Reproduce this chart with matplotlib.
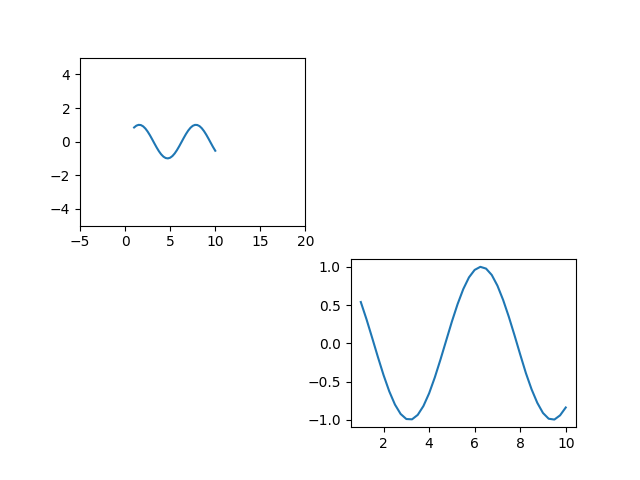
import matplotlib
matplotlib.use("Agg")
import matplotlib.pyplot as plt

x_vals = [1.0, 1.25, 1.5, 1.75, 2.0, 2.25, 2.5, 2.75, 3.0, 3.25, 3.5, 3.75, 4.0,
          4.25, 4.5, 4.75, 5.0, 5.25, 5.5, 5.75, 6.0, 6.25, 6.5, 6.75, 7.0, 7.25,
          7.5, 7.75, 8.0, 8.25, 8.5, 8.75, 9.0, 9.25, 9.5, 9.75, 10.0]
top_series = [0.841, 0.949, 0.997, 0.984, 0.909, 0.778, 0.598, 0.382, 0.141, -0.108,
              -0.351, -0.572, -0.757, -0.895, -0.978, -0.999, -0.959, -0.859, -0.706,
              -0.508, -0.279, -0.033, 0.215, 0.451, 0.657, 0.823, 0.938, 0.995, 0.989,
              0.923, 0.798, 0.624, 0.412, 0.174, -0.075, -0.320, -0.544]
bottom_series = [0.540, 0.315, 0.071, -0.178, -0.416, -0.628, -0.801, -0.924, -0.990,
                 -0.994, -0.936, -0.820, -0.654, -0.446, -0.211, 0.037, 0.284, 0.512,
                 0.709, 0.862, 0.960, 1.000, 0.977, 0.894, 0.754, 0.567, 0.347, 0.105,
                 -0.146, -0.390, -0.602, -0.778, -0.911, -0.986, -0.997, -0.942, -0.839]

fig = plt.figure(figsize=(6.4, 4.8), dpi=100)
ax1 = fig.add_subplot(221)
ax1.plot(x_vals, top_series)
ax1.set_xlim(-5, 20)
ax1.set_ylim(-5, 5)

ax2 = fig.add_subplot(224)
ax2.plot(x_vals, bottom_series)

fig.savefig("out.png", dpi=100)
